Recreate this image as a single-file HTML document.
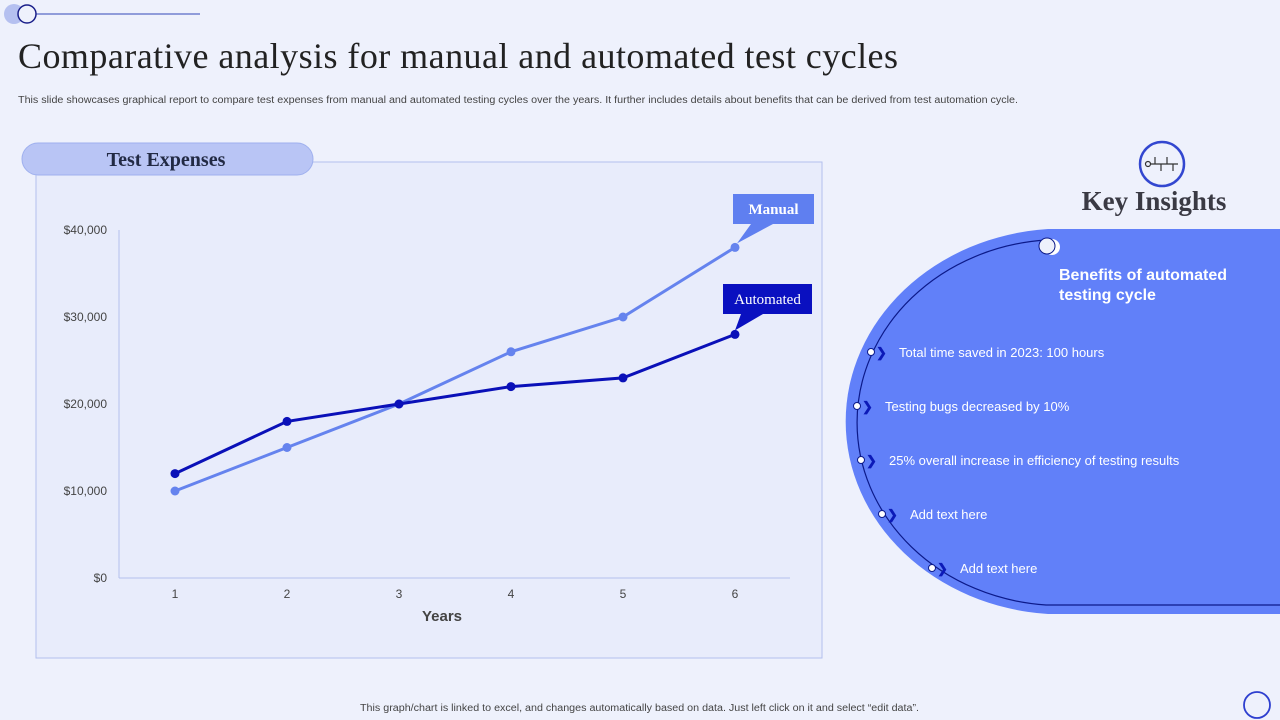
<!DOCTYPE html>
<html><head><meta charset="utf-8"><style>
body{margin:0;width:1280px;height:720px;background:#eef1fc;font-family:"Liberation Sans",sans-serif;position:relative;overflow:hidden}
.abs{position:absolute}
</style></head><body>
<svg class="abs" style="left:0;top:0" width="1280" height="720">
  <line x1="27" y1="14" x2="200" y2="14" stroke="#3347b8" stroke-width="1"/>
  <circle cx="14" cy="14" r="10" fill="#b5c0f0"/>
  <circle cx="27" cy="14" r="9" fill="#eef1fc" stroke="#1a1f8a" stroke-width="1.5"/>
  <text x="18" y="68" font-family="Liberation Serif" font-size="36" fill="#222" textLength="880" lengthAdjust="spacing">Comparative analysis for manual and automated test cycles</text>
  <text x="18" y="103" font-size="10" fill="#444" textLength="1000" lengthAdjust="spacingAndGlyphs">This slide showcases graphical report to compare test expenses from manual and automated testing cycles over the years. It further includes details about benefits that can be derived from test automation  cycle.</text>
  <rect x="36" y="162" width="786" height="496" fill="#e8ecfb" stroke="#b3c0ee"/>
  <rect x="22" y="143" width="291" height="32" rx="16" fill="#b9c5f5" stroke="#9fb0ee"/>
  <text x="166" y="166" text-anchor="middle" font-family="Liberation Serif" font-weight="bold" font-size="20" fill="#222a44">Test Expenses</text>
  <g id="chart"></g>
  <path d="M1048,229 L1280,229 L1280,614 L1048,614 A218,193 0 0 1 1048,229 Z" fill="#6180f9"/>
  <path d="M1046,240 A204,183 0 0 0 1046,605 L1280,605" fill="none" stroke="#0c1a8a" stroke-width="1.2"/>
  <circle cx="1052" cy="247" r="8" fill="#fff"/>
  <circle cx="1047" cy="246" r="8" fill="#eef1fc" stroke="#0c1a8a"/>
  <circle cx="1162" cy="164" r="22" fill="#eef1fc" stroke="#3347d0" stroke-width="2.5"/>
  <g stroke="#333" stroke-width="1.2" fill="none">
    <circle cx="1148" cy="164" r="2.5"/><line x1="1151" y1="164" x2="1178" y2="164"/>
    <line x1="1155" y1="157" x2="1155" y2="164"/><line x1="1167" y1="157" x2="1167" y2="164"/>
    <line x1="1161" y1="164" x2="1161" y2="171"/><line x1="1173" y1="164" x2="1173" y2="171"/>
  </g>
  <text x="1154" y="210" text-anchor="middle" font-family="Liberation Serif" font-weight="bold" font-size="27" fill="#3a3a44">Key Insights</text>
  <text x="1059" y="280" font-weight="bold" font-size="16" fill="#fff"><tspan x="1059">Benefits of automated</tspan><tspan x="1059" dy="20">testing cycle</tspan></text>
  <g id="items"></g>
  <text x="360" y="711" font-size="10" fill="#444" textLength="559" lengthAdjust="spacingAndGlyphs">This graph/chart is linked to excel, and changes automatically based on data.  Just left click on it and select “edit data”.</text>
  <circle cx="1257" cy="705" r="13" fill="#eef1fc" stroke="#2e3fcf" stroke-width="1.8"/>
</svg>
<script>
const years=["1","2","3","4","5","6"];
const manual=[10000,15000,20000,26000,30000,38000];
const automated=[12000,18000,20000,22000,23000,28000];
const yTicks=[0,10000,20000,30000,40000];
const yTickLabels=["$0","$10,000","$20,000","$30,000","$40,000"];
const items=["Total time saved in 2023:  100 hours","Testing bugs decreased  by 10%","25% overall  increase in efficiency of testing results","Add text here","Add text here"];
const NS="http://www.w3.org/2000/svg";
const g=document.getElementById('chart');
const X=i=>175+i*112, Y=v=>578-v/40000*348;
function mk(t,a,p){const e=document.createElementNS(NS,t);for(const k in a)e.setAttribute(k,a[k]);(p||g).appendChild(e);return e;}
let ax=mk('line',{x1:119,y1:230,x2:119,y2:578,stroke:'#b3c0ee'});


let bx=mk('line',{x1:119,y1:578,x2:790,y2:578,stroke:'#b3c0ee'});


yTicks.forEach((v,i)=>{const t=mk('text',{x:107,y:Y(v)+4,'text-anchor':'end','font-size':12,fill:'#444'});t.textContent=yTickLabels[i];

});
years.forEach((c,i)=>{const t=mk('text',{x:X(i),y:598,'text-anchor':'middle','font-size':12,fill:'#444'});t.textContent=c;

});
const xt=mk('text',{x:442,y:621,'text-anchor':'middle','font-size':15,'font-weight':'bold',fill:'#444'});xt.textContent='Years';


function series(d,col,name){
 const l=mk('polyline',{points:d.map((v,i)=>X(i)+','+Y(v)).join(' '),fill:'none',stroke:col,'stroke-width':3});
 
 
 d.forEach((v,i)=>{const c=mk('circle',{cx:X(i),cy:Y(v),r:4.5,fill:col});
 
 });
}
series(manual,'#6583ee','manual');
series(automated,'#0a10b8','automated');
function callout(x,y,w,label,col,px,py,name){
 const r=mk('path',{d:`M${x},${y} h${w} v30 h-${w-40} L${px},${py} L${x+18},${y+30} h-18 Z`,fill:col});
 
 
 const t=mk('text',{x:x+w/2,y:y+20,'text-anchor':'middle','font-family':'Liberation Serif','font-size':15,fill:'#fff','font-weight':name==='manual'?'bold':'normal'});t.textContent=label;
 
 
}
callout(733,194,81,'Manual','#5f7ff0',X(5)+2,Y(manual[5])-4,'manual');
callout(723,284,89,'Automated','#0a10c0',X(5),Y(automated[5])-4,'automated');
const ig=document.getElementById('items');
const ix=[871,857,861,882,932], iy=[352,406,460,514,568];
items.forEach((s,i)=>{
 const c=mk('circle',{cx:ix[i],cy:iy[i],r:3.5,fill:'#fff',stroke:'#0c1a8a'},ig);
 
 
 const a=mk('text',{x:ix[i]+5,y:iy[i]+5,'font-size':13,'font-weight':'bold',fill:'#0c1ab8'},ig);a.textContent='❯';
 
 
 const t=mk('text',{x:ix[i]+28,y:iy[i]+5,'font-size':13,fill:'#fff'},ig);t.textContent=s;
 
 
});
</script>
</body></html>
